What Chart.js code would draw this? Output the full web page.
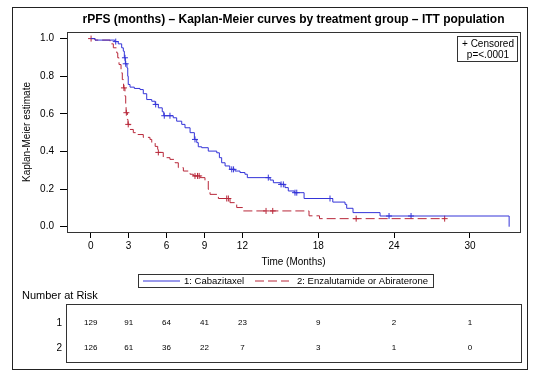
<!DOCTYPE html>
<html>
<head>
<meta charset="utf-8">
<script src="https://cdn.jsdelivr.net/npm/chart.js@4.4.0/dist/chart.umd.min.js"></script>
<style>
  html, body { margin: 0; padding: 0; background: #fff; }
  #wrap { position: relative; width: 536px; height: 381px; }
  canvas { display: block; }
</style>
</head>
<body>
<div id="wrap"><canvas id="c" width="536" height="381"></canvas></div>
<script>
// ---- Data ----
const chartTitle = 'rPFS (months) \u2013 Kaplan-Meier curves by treatment group \u2013 ITT population';
const seriesNames = ['1: Cabazitaxel', '2: Enzalutamide or Abiraterone'];

// Group 1: Cabazitaxel - KM step curve (time in months, survival estimate)
const cabaTimes = [0, 0.34, 1.9, 2.18, 2.45, 2.58, 2.66, 2.74, 2.87, 2.93, 2.97, 3.11, 3.45, 3.9, 4.16, 4.43, 4.83, 5.1, 5.35, 5.66, 5.78, 6.53, 6.8, 7.2, 7.46, 7.86, 8.2, 8.39, 8.51, 8.78, 9.3, 9.97, 10.18, 10.36, 10.63, 11.0, 11.42, 11.81, 12.2, 12.39, 14.19, 14.45, 15.0, 15.37, 15.63, 16.1, 16.88, 19.15, 20.12, 20.25, 20.75, 22.89, 33.1];
const cabaSurv  = [1.0, 0.992, 0.984, 0.972, 0.951, 0.933, 0.898, 0.866, 0.844, 0.80, 0.756, 0.742, 0.735, 0.729, 0.707, 0.676, 0.667, 0.65, 0.632, 0.611, 0.59, 0.579, 0.561, 0.544, 0.526, 0.50, 0.464, 0.447, 0.425, 0.42, 0.402, 0.393, 0.367, 0.34, 0.323, 0.305, 0.296, 0.288, 0.279, 0.261, 0.248, 0.234, 0.225, 0.208, 0.19, 0.181, 0.15, 0.131, 0.119, 0.098, 0.075, 0.057, 0.0];
const cabaCensT = [1.98, 2.71, 2.77, 5.14, 5.82, 6.27, 8.25, 11.16, 11.3, 14.05, 15.06, 15.24, 16.16, 16.3, 18.93, 23.6, 25.34];
const cabaCensS = [0.984, 0.898, 0.866, 0.65, 0.59, 0.59, 0.464, 0.305, 0.305, 0.261, 0.225, 0.225, 0.181, 0.181, 0.15, 0.057, 0.057];

// Group 2: Enzalutamide or Abiraterone
const enzaTimes = [0, 0.34, 1.53, 1.79, 2.06, 2.14, 2.24, 2.40, 2.5, 2.6, 2.71, 2.77, 2.8, 2.9, 2.95, 3.11, 3.37, 3.64, 4.16, 4.69, 4.83, 5.1, 5.3, 5.74, 6.27, 6.67, 6.93, 7.33, 7.86, 8.12, 8.65, 9.04, 9.3, 9.44, 10.1, 11.02, 11.55, 12.07, 17.27, 18.1, 28.0];
const enzaSurv  = [1.0, 0.992, 0.972, 0.951, 0.924, 0.898, 0.862, 0.818, 0.782, 0.738, 0.694, 0.65, 0.606, 0.570, 0.544, 0.517, 0.50, 0.49, 0.475, 0.464, 0.447, 0.427, 0.395, 0.367, 0.358, 0.34, 0.314, 0.296, 0.279, 0.27, 0.261, 0.243, 0.199, 0.172, 0.15, 0.128, 0.102, 0.084, 0.058, 0.043, 0.043];
const enzaCensT = [0.03, 2.63, 2.82, 2.97, 5.35, 8.25, 8.45, 8.58, 10.76, 10.89, 13.87, 14.4, 21.0, 28.0];
const enzaCensS = [1.0, 0.738, 0.606, 0.544, 0.395, 0.27, 0.27, 0.27, 0.15, 0.15, 0.084, 0.084, 0.043, 0.043];

// Axes ticks
const xTickValues = [0, 3, 6, 9, 12, 18, 24, 30];
const yTickValues = [0, 0.2, 0.4, 0.6, 0.8, 1.0];

// Number at risk table
const riskTimes = [0, 3, 6, 9, 12, 18, 24, 30];
const riskCaba  = [129, 91, 64, 41, 23, 9, 2, 1];
const riskEnza  = [126, 61, 36, 22, 7, 3, 1, 0];
const riskRowLabels = ['1', '2'];

const pValueText = 'p=<.0001';
const censoredText = '+ Censored';

// ---- Styling ----
const FONT = '"Liberation Sans", Arial, Helvetica, sans-serif';
const BLUE = '#3434d8';
const RED = '#b8283a';
const DASH = [9, 4];

const toXY = (ts, ss) => ts.map((t, i) => ({ x: t, y: ss[i] }));

const decor = {
  id: 'decor',
  beforeDraw(chart) {
    const ctx = chart.ctx;
    ctx.save();
    ctx.fillStyle = '#fff';
    ctx.fillRect(0, 0, chart.width, chart.height);
    ctx.restore();
  },
  afterDraw(chart) {
    const ctx = chart.ctx;
    const a = chart.chartArea;
    const xs = chart.scales.x;
    ctx.save();
    ctx.lineWidth = 1;
    ctx.setLineDash([]);
    // outer border
    ctx.strokeStyle = '#222';
    ctx.strokeRect(12.5, 7.5, 515, 362);
    // plot frame
    ctx.strokeStyle = '#333';
    ctx.strokeRect(Math.round(a.left) + 0.5, Math.round(a.top) + 0.5, Math.round(a.right - a.left), Math.round(a.bottom - a.top));

    // censored / p-value inset
    ctx.strokeStyle = '#333';
    ctx.strokeRect(457.5, 36.5, 60, 25);
    ctx.fillStyle = '#000';
    ctx.font = '10px ' + FONT;
    ctx.textAlign = 'center';
    ctx.textBaseline = 'middle';
    ctx.fillText(censoredText, 488, 44);
    ctx.fillText(pValueText, 488, 55);

    // legend below x axis
    ctx.strokeStyle = '#333';
    ctx.strokeRect(138.5, 274.5, 295, 13);
    const ly = 281;
    ctx.strokeStyle = BLUE;
    ctx.beginPath(); ctx.moveTo(143, ly); ctx.lineTo(180, ly); ctx.stroke();
    ctx.strokeStyle = RED;
    ctx.setLineDash(DASH);
    ctx.beginPath(); ctx.moveTo(255, ly); ctx.lineTo(289, ly); ctx.stroke();
    ctx.setLineDash([]);
    ctx.fillStyle = '#000';
    ctx.textAlign = 'left';
    ctx.font = '9.5px ' + FONT;
    ctx.fillText(seriesNames[0], 184, ly + 0.5);
    ctx.fillText(seriesNames[1], 297, ly + 0.5);

    // number at risk
    ctx.font = '11px ' + FONT;
    ctx.fillText('Number at Risk', 22, 296);
    ctx.strokeStyle = '#333';
    ctx.strokeRect(66.5, 304.5, 455, 58);
    ctx.font = '10px ' + FONT;
    ctx.textAlign = 'right';
    const rowY = [323, 348];
    ctx.fillText(riskRowLabels[0], 62, rowY[0]);
    ctx.fillText(riskRowLabels[1], 62, rowY[1]);
    ctx.font = '8px ' + FONT;
    ctx.textAlign = 'center';
    riskTimes.forEach((t, i) => {
      const px = xs.getPixelForValue(t);
      ctx.fillText(String(riskCaba[i]), px, rowY[0]);
      ctx.fillText(String(riskEnza[i]), px, rowY[1]);
    });
    ctx.restore();
  }
};

new Chart(document.getElementById('c'), {
  type: 'line',
  data: {
    datasets: [
      {
        label: seriesNames[0],
        data: toXY(cabaTimes, cabaSurv),
        borderColor: BLUE, borderWidth: 1, pointRadius: 0, stepped: 'before', fill: false
      },
      {
        label: seriesNames[1],
        data: toXY(enzaTimes, enzaSurv),
        borderColor: RED, borderWidth: 1, borderDash: DASH, pointRadius: 0, stepped: 'before', fill: false
      },
      {
        label: 'Censored 1',
        data: toXY(cabaCensT, cabaCensS),
        showLine: false, pointStyle: 'cross', pointRadius: 3, pointBorderWidth: 1,
        pointBorderColor: BLUE, borderColor: BLUE
      },
      {
        label: 'Censored 2',
        data: toXY(enzaCensT, enzaCensS),
        showLine: false, pointStyle: 'cross', pointRadius: 3, pointBorderWidth: 1,
        pointBorderColor: RED, borderColor: RED
      }
    ]
  },
  options: {
    responsive: false,
    animation: false,
    devicePixelRatio: 1,
    layout: { padding: { left: 18, top: 8, right: 16, bottom: 111 } },
    plugins: {
      legend: { display: false },
      tooltip: { enabled: false },
      title: {
        display: true,
        text: chartTitle,
        fullSize: false,
        color: '#000',
        font: { family: FONT, size: 12, weight: 'bold', lineHeight: 1.2 },
        padding: { top: 4.6, bottom: 5 }
      }
    },
    scales: {
      x: {
        type: 'linear',
        min: -1.875,
        max: 33.96,
        afterBuildTicks: (s) => { s.ticks = xTickValues.map(v => ({ value: v })); },
        afterFit: (s) => { s.height = 38; },
        grid: { display: true, drawOnChartArea: false, drawTicks: true, tickLength: 6, color: '#000', tickColor: '#000' },
        border: { display: false },
        ticks: { color: '#000', font: { family: FONT, size: 10 }, padding: 2, maxRotation: 0, autoSkip: false },
        title: { display: true, text: 'Time (Months)', color: '#000', font: { family: FONT, size: 10 }, padding: { top: 0, bottom: 2 } }
      },
      y: {
        type: 'linear',
        min: -0.028,
        max: 1.035,
        afterBuildTicks: (s) => { s.ticks = yTickValues.map(v => ({ value: v })); },
        afterFit: (s) => { s.width = 49; },
        grid: { display: true, drawOnChartArea: false, drawTicks: true, tickLength: 7, color: '#000', tickColor: '#000' },
        border: { display: false },
        ticks: { color: '#000', font: { family: FONT, size: 10 }, padding: 6, callback: (v) => Number(v).toFixed(1) },
        title: { display: true, text: 'Kaplan-Meier estimate', color: '#000', font: { family: FONT, size: 10 }, padding: { top: 3, bottom: 0 } }
      }
    }
  },
  plugins: [decor]
});
</script>
</body>
</html>
